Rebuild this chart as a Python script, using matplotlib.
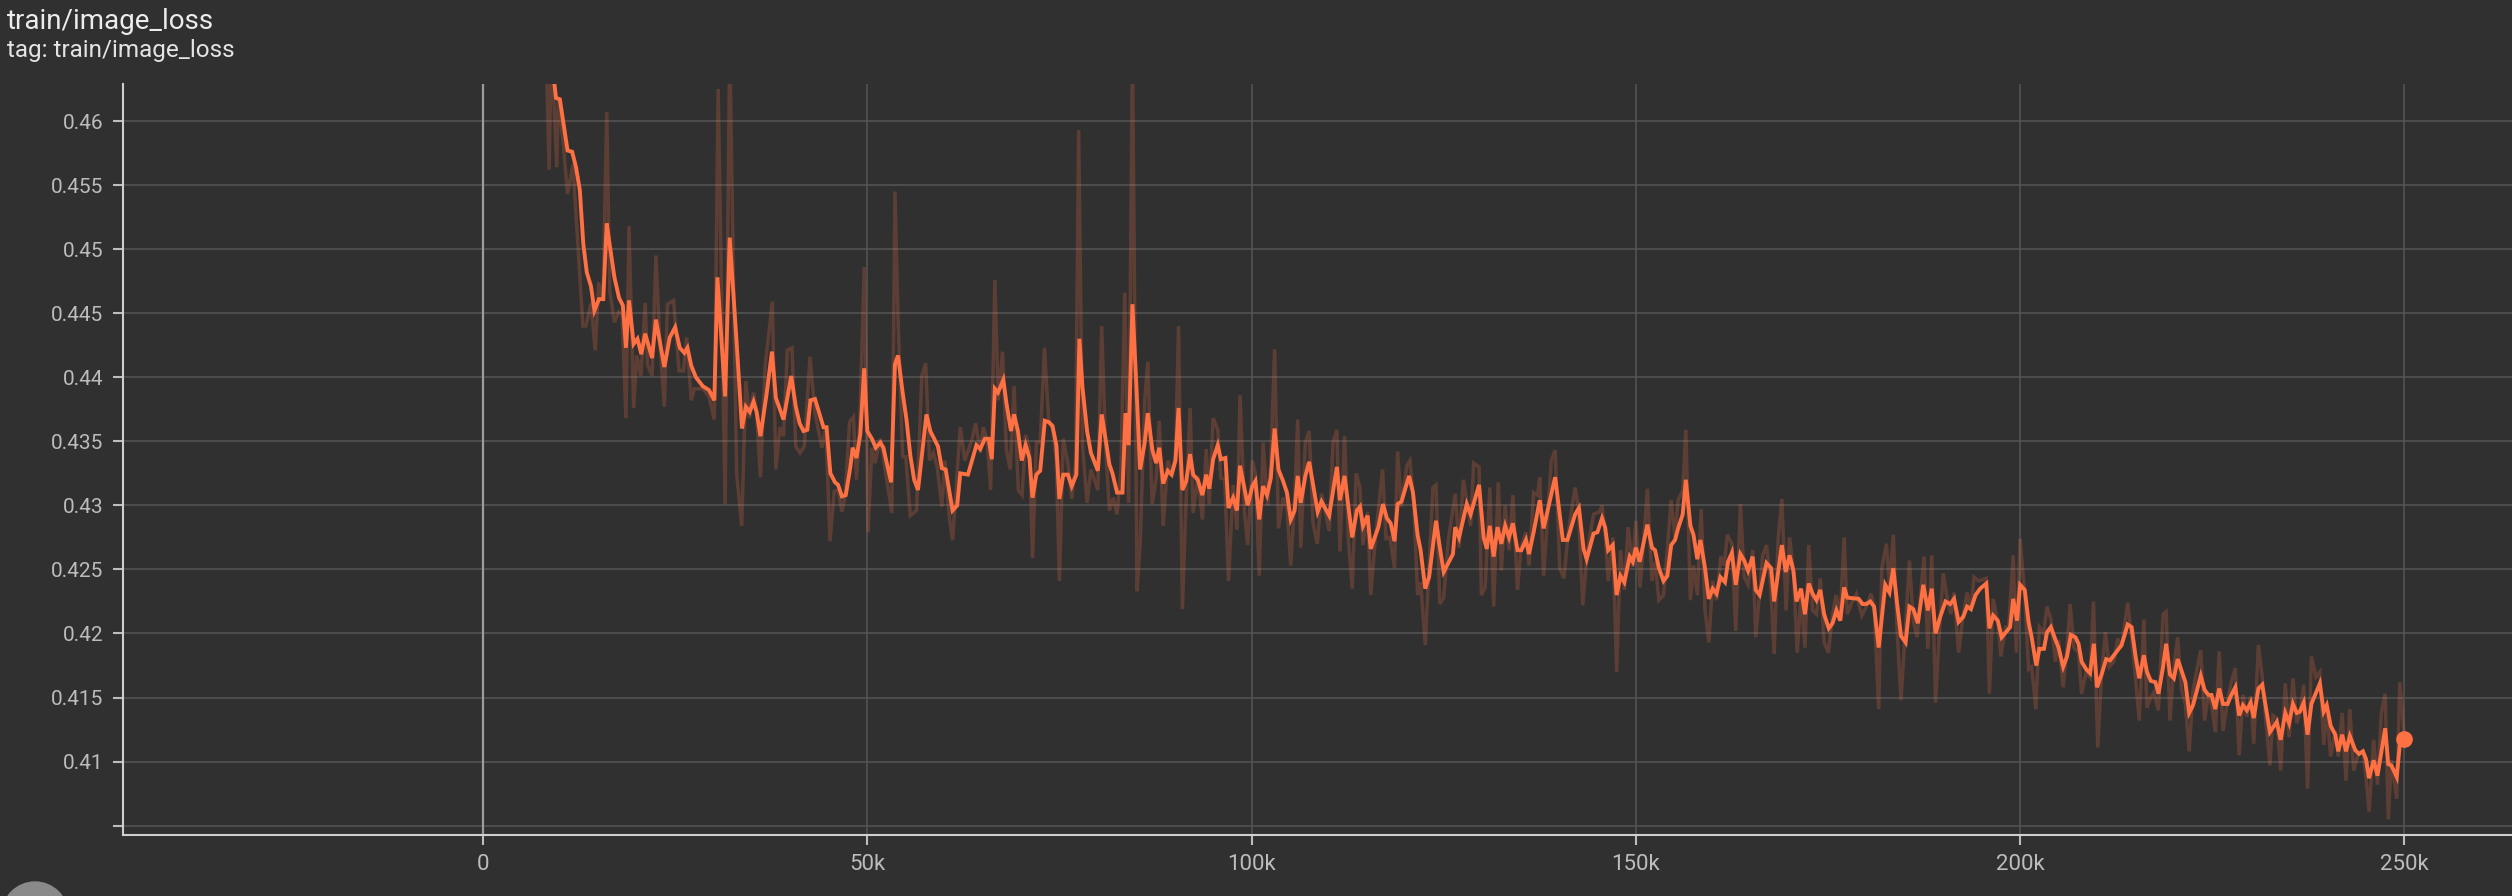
import matplotlib
matplotlib.use("Agg")
import matplotlib.pyplot as plt
from matplotlib.patches import Ellipse

# ---------------- data ----------------
title = "train/image_loss"
subtitle = "tag: train/image_loss"

# steps in thousands
smooth_step_k = [
    8.9, 9.5, 10.0, 11.0, 11.6, 12.1, 12.6, 13.05, 13.5, 14.05, 14.5, 15.1, 15.65, 16.1, 16.4, 17.1, 17.7, 18.2, 18.6, 19.0,
    19.6, 20.1, 20.6, 21.1, 22.0, 22.5, 23.6, 24.3, 25.0, 25.6, 26.2, 26.6, 27.1, 27.7, 28.6, 29.4, 30.1, 30.5, 31.5, 32.1,
    33.0, 33.7, 34.2, 34.7, 35.2, 35.6, 36.1, 36.9, 37.6, 38.1, 39.1, 40.1, 40.7, 41.2, 41.7, 42.2, 42.6, 43.2, 44.3, 44.7,
    45.2, 45.8, 46.2, 46.7, 47.2, 47.8, 48.1, 48.6, 49.1, 49.6, 50.0, 50.6, 51.1, 51.7, 52.1, 52.5, 53.1, 53.6, 54.0, 54.6,
    55.1, 55.6, 56.1, 56.6, 57.7, 58.2, 59.2, 59.7, 60.2, 61.1, 61.7, 62.1, 63.1, 64.2, 64.7, 65.3, 65.8, 66.2, 66.6, 67.0,
    67.7, 68.1, 68.7,
    69.1, 69.6, 70.1, 70.6, 71.1, 71.5, 72.0, 72.5, 73.1, 73.6, 74.1, 74.6, 75.0, 75.5, 76.1, 76.6, 77.2, 77.6, 78.0, 78.6,
    79.1, 80.0, 80.5, 81.0, 81.5, 81.9, 82.5, 83.2, 83.6, 84.0, 84.5, 85.0, 85.5, 86.1, 86.5, 87.1, 87.6, 88.0, 88.5, 89.1,
    89.6, 90.1, 90.5, 91.0, 91.5, 92.0, 92.4, 93.0, 93.6, 94.1, 94.5, 95.0, 95.6, 96.0, 96.6, 97.0, 97.6, 98.1, 98.5, 99.5,
    100.1, 100.5, 101.0, 101.5, 102.0, 102.5, 103.0, 103.5, 104.1, 104.6, 105.1, 105.6, 106.0, 106.4, 107.0, 107.5,
    108.6, 109.1, 110.1, 111.1, 111.5, 112.1, 113.1, 113.7, 114.1, 114.5, 115.1, 115.5, 116.5, 117.1, 117.6, 118.1, 118.6, 119.0, 119.5, 120.5,
    121.0, 121.6, 122.0, 122.6, 123.1, 124.0, 124.5, 125.0, 126.2, 126.5, 127.0, 128.0, 128.5, 129.6, 130.2, 130.6, 131.0, 131.5, 132.0, 132.5,
    133.0, 133.5, 134.0, 134.6, 135.1, 135.7, 136.1, 136.7, 137.5, 138.0, 139.5, 140.5, 141.1, 142.1, 142.6, 143.2, 143.6, 144.5,
    145.0, 145.6, 146.0, 146.4, 147.0, 147.5, 148.0, 148.5, 149.2, 149.6, 150.0, 150.5, 151.5, 152.1, 152.5, 153.0, 153.6, 154.1, 154.6, 155.1,
    155.5, 156.1, 156.5, 157.1, 157.5, 158.0, 158.4, 159.0, 159.5, 160.0, 160.5, 161.0, 161.6, 162.0, 162.5, 163.0, 163.6, 164.1, 164.6, 165.2,
    165.6, 166.1, 167.0, 167.6, 168.0, 169.0, 169.5, 170.0, 170.5, 170.9, 171.5, 172.0, 172.5, 173.0, 173.5, 174.0, 174.5, 175.1, 175.6, 176.1,
    176.6, 177.1, 177.5, 179.0, 179.5, 180.0, 180.5, 181.0, 181.6,
    182.45, 183.0, 183.5, 184.0, 184.5, 185.1, 185.6, 186.1, 186.7, 187.4, 188.0, 188.5, 189.0, 189.6, 190.3, 190.9, 191.4, 192.0, 192.6, 193.1,
    193.6, 194.2, 194.8, 195.6, 196.0, 196.5, 197.1, 197.6, 198.7, 199.1, 199.6, 200.0, 200.6, 201.1, 201.5, 202.1, 202.5, 203.1, 203.5, 204.0,
    204.6, 205.0, 205.6, 206.1, 206.6, 207.2, 207.6, 208.0, 208.6, 209.1, 209.6, 210.0, 210.6, 211.2, 211.7, 212.7, 213.2, 214.0, 214.5, 215.0,
    215.5, 216.1, 216.5, 217.0, 217.6, 218.0, 218.6, 219.0, 219.5,
    220.0, 220.5, 221.0, 221.5, 222.0, 222.5, 223.5, 224.0, 224.5, 224.9, 225.4, 225.9, 226.4, 227.0, 227.4, 228.0, 228.5, 229.0, 229.5, 230.0,
    230.4, 231.0, 231.5, 232.5, 233.4, 233.9, 234.5, 235.0, 235.5, 236.0, 236.4, 236.9, 237.4, 237.9, 239.0, 239.5, 239.9, 240.4, 241.0, 241.4,
    241.9, 242.4, 242.9, 243.6, 244.1, 244.6, 245.0, 245.4, 246.0, 246.5, 247.5, 247.9, 248.3, 249.0, 249.4, 250.0,
]
smooth_loss = [
    0.4650, 0.4618, 0.4617, 0.4577, 0.4576, 0.4564, 0.4546, 0.4504, 0.4482, 0.4471, 0.4452, 0.4461, 0.4461, 0.4520, 0.4507, 0.4478, 0.4462, 0.4456, 0.4423, 0.4460,
    0.4426, 0.4430, 0.4418, 0.4434, 0.4415, 0.4445, 0.4408, 0.4431, 0.4439, 0.4423, 0.4419, 0.4423, 0.4409, 0.4400, 0.4393, 0.4390, 0.4382, 0.4478, 0.4385, 0.4509,
    0.4427, 0.4360, 0.4377, 0.4373, 0.4381, 0.4373, 0.4354, 0.4387, 0.4420, 0.4384, 0.4367, 0.4401, 0.4377, 0.4364, 0.4358, 0.4359, 0.4382, 0.4383, 0.4361, 0.4361,
    0.4325, 0.4318, 0.4316, 0.4307, 0.4308, 0.4330, 0.4345, 0.4337, 0.4356, 0.4407, 0.4358, 0.4352, 0.4345, 0.4349, 0.4345, 0.4334, 0.4318, 0.4410, 0.4417, 0.4388,
    0.4367, 0.4339, 0.4320, 0.4312, 0.4371, 0.4358, 0.4346, 0.4329, 0.4328, 0.4296, 0.4300, 0.4325, 0.4324, 0.4347, 0.4344, 0.4352, 0.4352, 0.4336, 0.4391, 0.4388,
    0.4398, 0.4380, 0.4358,
    0.4371, 0.4358, 0.4335, 0.4347, 0.4337, 0.4306, 0.4324, 0.4327, 0.4366, 0.4365, 0.4362, 0.4347, 0.4305, 0.4324, 0.4324, 0.4315, 0.4324, 0.4430, 0.4392, 0.4358,
    0.4341, 0.4327, 0.4371, 0.4352, 0.4332, 0.4325, 0.4310, 0.4310, 0.4372, 0.4347, 0.4457, 0.4395, 0.4328, 0.4349, 0.4372, 0.4343, 0.4333, 0.4345, 0.4317, 0.4327,
    0.4324, 0.4335, 0.4376, 0.4312, 0.4319, 0.4340, 0.4324, 0.4320, 0.4308, 0.4324, 0.4313, 0.4336, 0.4347, 0.4336, 0.4337, 0.4298, 0.4306, 0.4296, 0.4331, 0.4300,
    0.4315, 0.4319, 0.4289, 0.4315, 0.4308, 0.4321, 0.4360, 0.4328, 0.4319, 0.4310, 0.4289, 0.4296, 0.4323, 0.4302, 0.4323, 0.4334,
    0.4295, 0.4303, 0.4292, 0.4330, 0.4304, 0.4323, 0.4275, 0.4296, 0.4299, 0.4284, 0.4292, 0.4266, 0.4283, 0.4301, 0.4290, 0.4286, 0.4272, 0.4301, 0.4303, 0.4323,
    0.4310, 0.4277, 0.4265, 0.4235, 0.4244, 0.4288, 0.4267, 0.4248, 0.4262, 0.4283, 0.4275, 0.4301, 0.4293, 0.4316, 0.4275, 0.4266, 0.4284, 0.4260, 0.4283, 0.4270,
    0.4284, 0.4275, 0.4286, 0.4265, 0.4265, 0.4273, 0.4262, 0.4279, 0.4304, 0.4282, 0.4322, 0.4273, 0.4273, 0.4293, 0.4298, 0.4266, 0.4258, 0.4278,
    0.4279, 0.4290, 0.4283, 0.4265, 0.4269, 0.4230, 0.4245, 0.4240, 0.4260, 0.4256, 0.4267, 0.4256, 0.4285, 0.4267, 0.4265, 0.4251, 0.4241, 0.4245, 0.4269, 0.4273,
    0.4282, 0.4293, 0.4320, 0.4284, 0.4277, 0.4258, 0.4273, 0.4251, 0.4227, 0.4235, 0.4231, 0.4244, 0.4240, 0.4256, 0.4263, 0.4238, 0.4262, 0.4257, 0.4249, 0.4260,
    0.4234, 0.4230, 0.4255, 0.4251, 0.4225, 0.4269, 0.4248, 0.4261, 0.4249, 0.4225, 0.4235, 0.4215, 0.4239, 0.4231, 0.4226, 0.4234, 0.4215, 0.4204, 0.4208, 0.4218,
    0.4210, 0.4236, 0.4228, 0.4227, 0.4223, 0.4223, 0.4225, 0.4221, 0.4189,
    0.4238, 0.4232, 0.4251, 0.4223, 0.4198, 0.4193, 0.4221, 0.4219, 0.4208, 0.4238, 0.4218, 0.4235, 0.4200, 0.4213, 0.4225, 0.4223, 0.4227, 0.4209, 0.4213, 0.4221,
    0.4219, 0.4230, 0.4235, 0.4239, 0.4204, 0.4214, 0.4210, 0.4197, 0.4205, 0.4227, 0.4210, 0.4238, 0.4234, 0.4209, 0.4197, 0.4175, 0.4188, 0.4188, 0.4201, 0.4205,
    0.4195, 0.4189, 0.4174, 0.4182, 0.4199, 0.4197, 0.4192, 0.4178, 0.4172, 0.4169, 0.4192, 0.4158, 0.4168, 0.4180, 0.4179, 0.4187, 0.4191, 0.4207, 0.4205, 0.4183,
    0.4165, 0.4183, 0.4170, 0.4163, 0.4162, 0.4153, 0.4174, 0.4192, 0.4168,
    0.4165, 0.4180, 0.4171, 0.4162, 0.4138, 0.4144, 0.4167, 0.4156, 0.4152, 0.4152, 0.4141, 0.4157, 0.4145, 0.4145, 0.4151, 0.4158, 0.4136, 0.4144, 0.4140, 0.4146,
    0.4134, 0.4157, 0.4160, 0.4123, 0.4131, 0.4117, 0.4138, 0.4130, 0.4145, 0.4138, 0.4139, 0.4146, 0.4121, 0.4145, 0.4161, 0.4139, 0.4144, 0.4128, 0.4121, 0.4108,
    0.4121, 0.4108, 0.4120, 0.4109, 0.4106, 0.4108, 0.4102, 0.4087, 0.4101, 0.4089, 0.4126, 0.4098, 0.4097, 0.4088, 0.4113, 0.4118,
]

raw_step_k = [
    8.2, 8.6, 8.9, 9.6, 9.8, 10.45, 11.0, 11.7, 13.0, 13.4, 14.05, 14.6, 15.05, 15.6, 16.1, 16.5, 17.1, 17.65, 18.1, 18.6,
    19.0, 19.6, 20.0, 20.55, 21.1, 21.4, 22.0, 22.5, 23.0, 23.6, 24.0, 24.8, 25.5, 26.1, 26.5, 27.1, 27.5, 28.6, 29.4, 30.1,
    30.6, 31.5, 32.1,
    33.0, 33.66, 34.2, 34.66, 35.2, 35.6, 36.1, 36.7, 37.65, 38.1, 38.65, 39.1, 39.6, 40.2, 40.7, 41.25, 41.8, 42.55, 43.2, 44.1,
    44.6, 45.15, 45.7, 46.2, 46.7, 47.1, 47.7, 48.2, 48.6, 49.05, 49.6, 50.1, 50.6, 51.0, 51.7, 52.2, 53.2, 53.6, 54.0, 54.6,
    55.0, 55.6, 56.4, 57.1, 57.6, 58.1, 58.6, 59.1, 59.7, 60.1, 60.7, 61.1, 62.1, 62.7, 63.6, 64.1, 64.7, 65.1, 65.6, 66.05,
    66.6, 67.05, 67.6, 68.1, 68.6, 69.1, 69.65,
    70.15, 70.6, 71.1, 71.5, 72.0, 72.5, 73.05, 73.6, 74.15, 74.6, 75.0, 75.5, 76.1, 76.6, 77.1, 77.5, 78.0, 78.6, 79.1, 80.0,
    80.5, 81.0, 81.5, 82.0, 82.5, 83.0, 83.5, 84.0, 84.5, 85.1, 85.5, 86.1, 86.5, 87.06, 87.6, 88.0, 88.5, 89.1, 89.6, 90.1,
    90.5, 91.0, 91.5, 92.0, 92.4, 93.0, 93.6, 94.1, 94.5, 95.0, 95.6, 96.0, 96.5, 97.0, 97.6, 98.1, 98.5, 99.1, 99.5, 100.1,
    100.5, 101.0, 101.5, 102.1, 102.5, 103.0, 103.5, 104.1, 104.6, 105.1, 105.6, 106.0, 106.4, 107.0, 107.5,
    108.0, 108.55, 109.1, 110.1, 110.6, 111.1, 111.5, 112.1, 112.6, 113.1, 113.6, 114.1, 114.5, 115.1, 115.5, 116.2, 117.05, 117.5, 118.0, 118.6,
    119.0, 119.5, 120.2, 120.6, 121.1, 121.6, 122.0, 122.6, 123.0, 123.6, 124.0, 124.5, 125.0, 125.6, 126.5, 127.0, 127.55, 128.0, 128.5, 128.9,
    129.6, 129.9, 130.4, 131.0, 131.5, 132.1, 132.5, 133.0, 133.5, 134.0, 134.6, 135.05, 135.7, 136.1, 136.7, 137.2, 137.5, 138.0, 139.0, 139.5,
    140.1, 140.65, 141.2, 142.1, 142.5, 143.1, 143.7, 144.5, 145.3,
    145.6, 146.0, 146.4, 147.0, 147.5, 148.0, 148.5, 149.0, 149.6, 150.0, 150.55, 151.1, 151.5, 152.1, 152.5, 153.0, 153.6, 154.1, 154.6, 155.1,
    155.5, 156.1, 156.5, 157.1, 157.5, 158.0, 158.5, 159.0, 159.5, 160.0, 160.5, 161.05, 161.5, 161.9, 162.5, 163.0, 163.6, 164.1, 164.6, 165.2,
    165.6, 166.1, 166.5, 167.0, 167.5, 168.0, 168.5, 169.0, 169.55, 170.0, 170.5, 171.0, 171.5, 172.0, 172.5, 173.0, 173.5, 174.0, 174.5, 175.05,
    175.6, 176.05, 176.6, 177.1, 177.5, 178.1, 178.7, 179.4, 180.0, 180.6, 181.0, 181.6, 182.0, 182.6,
    183.0, 183.5, 184.0, 184.5, 185.05, 185.6, 186.1, 186.6, 187.1, 187.5, 188.0, 188.5, 189.0, 189.5, 190.0, 190.6, 191.0, 191.4, 192.0, 192.55,
    193.1, 193.6, 194.0, 194.6, 195.6, 196.0, 196.5, 197.1, 197.5, 198.1, 198.5, 199.1, 199.5, 200.0, 200.6, 201.1, 201.5, 202.05, 202.5, 203.05,
    203.5, 204.0, 204.6, 205.0, 205.6, 206.1, 206.5, 207.0, 207.6, 208.0, 208.6, 209.1, 209.55, 210.1, 210.6, 211.1, 211.6, 212.2, 212.7, 213.2,
    214.0, 214.5, 215.0, 215.5, 216.1, 216.5, 217.0, 217.4, 218.0, 218.6, 219.0, 219.5, 220.0, 220.5,
    221.0, 221.5, 222.0, 222.5, 223.5, 224.0, 224.5, 224.9, 225.4, 225.9, 226.4, 227.0, 227.4, 228.0, 228.5, 229.0, 229.5, 230.0, 230.4, 231.0,
    231.5, 232.0, 232.5, 232.9, 233.4, 233.9, 234.5, 235.0, 235.5, 236.0, 236.4, 236.9, 237.4, 237.9, 238.5, 239.0, 239.5, 239.9, 240.4, 241.0,
    241.4, 241.9, 242.4, 242.9, 243.4, 244.0, 244.6, 245.0, 245.4, 246.0, 246.5, 247.0, 247.5, 247.9, 248.3, 249.0, 249.4, 250.0,
]
raw_loss = [
    0.4660, 0.4562, 0.4660, 0.4564, 0.4618, 0.4582, 0.4543, 0.4566, 0.4440, 0.4440, 0.4458, 0.4421, 0.4474, 0.4460, 0.4607, 0.4467, 0.4443, 0.4451, 0.4449, 0.4368,
    0.4518, 0.4376, 0.4417, 0.4401, 0.4458, 0.4410, 0.4401, 0.4495, 0.4428, 0.4377, 0.4457, 0.4460, 0.4405, 0.4405, 0.4431, 0.4382, 0.4391, 0.4391, 0.4385, 0.4367,
    0.4625, 0.4301, 0.4660,
    0.4325, 0.4284, 0.4397, 0.4368, 0.4388, 0.4372, 0.4322, 0.4408, 0.4459, 0.4328, 0.4361, 0.4354, 0.4421, 0.4423, 0.4346, 0.4341, 0.4346, 0.4416, 0.4372, 0.4345,
    0.4361, 0.4272, 0.4311, 0.4312, 0.4295, 0.4307, 0.4365, 0.4369, 0.4320, 0.4369, 0.4486, 0.4279, 0.4345, 0.4333, 0.4352, 0.4333, 0.4294, 0.4545, 0.4447, 0.4338,
    0.4338, 0.4292, 0.4296, 0.4401, 0.4411, 0.4335, 0.4341, 0.4330, 0.4299, 0.4335, 0.4289, 0.4273, 0.4361, 0.4335, 0.4351, 0.4364, 0.4341, 0.4361, 0.4351, 0.4312,
    0.4476, 0.4382, 0.4420, 0.4343, 0.4328, 0.4393, 0.4312,
    0.4308, 0.4355, 0.4344, 0.4259, 0.4349, 0.4349, 0.4423, 0.4367, 0.4359, 0.4333, 0.4241, 0.4352, 0.4333, 0.4305, 0.4333, 0.4593, 0.4347, 0.4302, 0.4328, 0.4312,
    0.4440, 0.4347, 0.4296, 0.4306, 0.4293, 0.4328, 0.4466, 0.4302, 0.4660, 0.4233, 0.4269, 0.4382, 0.4412, 0.4301, 0.4321, 0.4366, 0.4284, 0.4335, 0.4325, 0.4339,
    0.4440, 0.4219, 0.4306, 0.4376, 0.4294, 0.4323, 0.4289, 0.4344, 0.4301, 0.4368, 0.4359, 0.4321, 0.4321, 0.4241, 0.4316, 0.4281, 0.4386, 0.4293, 0.4269, 0.4335,
    0.4325, 0.4245, 0.4349, 0.4300, 0.4333, 0.4422, 0.4282, 0.4306, 0.4298, 0.4253, 0.4304, 0.4367, 0.4267, 0.4349, 0.4358,
    0.4286, 0.4270, 0.4309, 0.4280, 0.4349, 0.4359, 0.4264, 0.4354, 0.4273, 0.4235, 0.4325, 0.4314, 0.4269, 0.4295, 0.4230, 0.4280, 0.4328, 0.4274, 0.4275, 0.4251,
    0.4342, 0.4299, 0.4331, 0.4335, 0.4303, 0.4230, 0.4240, 0.4191, 0.4241, 0.4314, 0.4316, 0.4223, 0.4228, 0.4273, 0.4309, 0.4267, 0.4320, 0.4304, 0.4284, 0.4333,
    0.4330, 0.4230, 0.4236, 0.4314, 0.4221, 0.4318, 0.4249, 0.4300, 0.4265, 0.4308, 0.4234, 0.4267, 0.4279, 0.4253, 0.4310, 0.4308, 0.4322, 0.4245, 0.4335, 0.4343,
    0.4251, 0.4243, 0.4279, 0.4314, 0.4299, 0.4222, 0.4265, 0.4293, 0.4295,
    0.4300, 0.4280, 0.4241, 0.4275, 0.4170, 0.4265, 0.4234, 0.4283, 0.4252, 0.4288, 0.4236, 0.4279, 0.4313, 0.4241, 0.4256, 0.4226, 0.4230, 0.4266, 0.4304, 0.4275,
    0.4304, 0.4312, 0.4359, 0.4226, 0.4253, 0.4230, 0.4297, 0.4218, 0.4193, 0.4241, 0.4226, 0.4260, 0.4253, 0.4277, 0.4270, 0.4202, 0.4301, 0.4244, 0.4238, 0.4265,
    0.4197, 0.4231, 0.4261, 0.4269, 0.4241, 0.4184, 0.4273, 0.4305, 0.4218, 0.4275, 0.4249, 0.4185, 0.4231, 0.4189, 0.4269, 0.4218, 0.4215, 0.4243, 0.4193, 0.4185,
    0.4215, 0.4230, 0.4214, 0.4275, 0.4215, 0.4224, 0.4231, 0.4214, 0.4221, 0.4231, 0.4221, 0.4141, 0.4251, 0.4270,
    0.4238, 0.4277, 0.4202, 0.4148, 0.4201, 0.4257, 0.4210, 0.4197, 0.4234, 0.4260, 0.4188, 0.4261, 0.4146, 0.4202, 0.4247, 0.4224, 0.4215, 0.4232, 0.4185, 0.4213,
    0.4232, 0.4218, 0.4244, 0.4241, 0.4243, 0.4153, 0.4227, 0.4208, 0.4182, 0.4205, 0.4205, 0.4261, 0.4185, 0.4274, 0.4230, 0.4172, 0.4174, 0.4141, 0.4205, 0.4200,
    0.4221, 0.4211, 0.4178, 0.4195, 0.4158, 0.4189, 0.4223, 0.4189, 0.4185, 0.4153, 0.4170, 0.4166, 0.4225, 0.4111, 0.4168, 0.4201, 0.4174, 0.4178, 0.4196, 0.4189,
    0.4224, 0.4197, 0.4166, 0.4132, 0.4211, 0.4142, 0.4150, 0.4154, 0.4140, 0.4215, 0.4217, 0.4132, 0.4174, 0.4197,
    0.4156, 0.4145, 0.4108, 0.4156, 0.4187, 0.4132, 0.4153, 0.4145, 0.4123, 0.4186, 0.4124, 0.4148, 0.4160, 0.4173, 0.4105, 0.4152, 0.4135, 0.4151, 0.4114, 0.4191,
    0.4166, 0.4130, 0.4097, 0.4136, 0.4134, 0.4093, 0.4161, 0.4119, 0.4165, 0.4130, 0.4138, 0.4160, 0.4079, 0.4182, 0.4166, 0.4170, 0.4113, 0.4141, 0.4104, 0.4124,
    0.4104, 0.4138, 0.4085, 0.4141, 0.4093, 0.4106, 0.4108, 0.4088, 0.4061, 0.4117, 0.4082, 0.4138, 0.4153, 0.4055, 0.4101, 0.4071, 0.4162, 0.4118,
]

xtick_vals = [0, 50, 100, 150, 200, 250]
xtick_labels = ["0", "50k", "100k", "150k", "200k", "250k"]
ytick_vals = [0.46, 0.455, 0.45, 0.445, 0.44, 0.435, 0.43, 0.425, 0.42, 0.415, 0.41, 0.405]
ytick_labels = ["0.46", "0.455", "0.45", "0.445", "0.44", "0.435", "0.43", "0.425", "0.42", "0.415", "0.41", ""]

# ---------------- style ----------------
BG = "#303030"
ORANGE = "#ff7043"
W, H = 2512, 896

fig = plt.figure(figsize=(W / 100, H / 100), dpi=100, facecolor=BG)
ax = fig.add_axes([123 / W, (H - 835) / H, (W - 123) / W, (835 - 84) / H])
ax.set_facecolor(BG)
ax.set_axisbelow(True)

ax.plot(raw_step_k, raw_loss, color=ORANGE, alpha=0.22, lw=2.5, zorder=3,
        solid_joinstyle="miter")
ax.plot(smooth_step_k, smooth_loss, color=ORANGE, lw=2.8, zorder=4,
        solid_joinstyle="miter")
ax.plot(smooth_step_k[-1:], smooth_loss[-1:], "o", color=ORANGE, ms=11, zorder=5)

ax.set_xlim(-46.84, 264.0)
ax.set_ylim(0.40427, 0.46289)
ax.set_xticks(xtick_vals)
ax.set_xticklabels(xtick_labels)
ax.set_yticks(ytick_vals)
ax.set_yticklabels(ytick_labels)

ax.grid(True, color="#555555", lw=1.1)
ax.axvline(0, color="#9c9c9c", lw=1.6, zorder=2)

for s in ["top", "right"]:
    ax.spines[s].set_visible(False)
for s in ["left", "bottom"]:
    ax.spines[s].set_color("#cfcfcf")
    ax.spines[s].set_linewidth(1.5)

ax.tick_params(axis="both", colors="#bdbdbd", length=7, width=1.5)
ax.tick_params(axis="y", labelsize=15, pad=7)
ax.tick_params(axis="x", labelsize=16, pad=7)
for lab in ax.get_xticklabels() + ax.get_yticklabels():
    lab.set_fontfamily(["Roboto", "DejaVu Sans"])
    lab.set_fontweight("normal")
    lab.set_color("#bcbcbc")

fig.text(7 / W, 1 - 29 / H, title, color="#ececec", fontsize=20,
         family=["Roboto", "DejaVu Sans"], va="baseline", ha="left")
fig.text(7 / W, 1 - 57 / H, subtitle, color="#e4e4e4", fontsize=17.5,
         family=["Roboto", "DejaVu Sans"], va="baseline", ha="left")

circ = Ellipse((35 / W, 1 - 915 / H), 66 / W, 66 / H, transform=fig.transFigure,
               color="#8a8a8a", zorder=10)
fig.add_artist(circ)

fig.savefig("out.png", dpi=100, facecolor=BG)
